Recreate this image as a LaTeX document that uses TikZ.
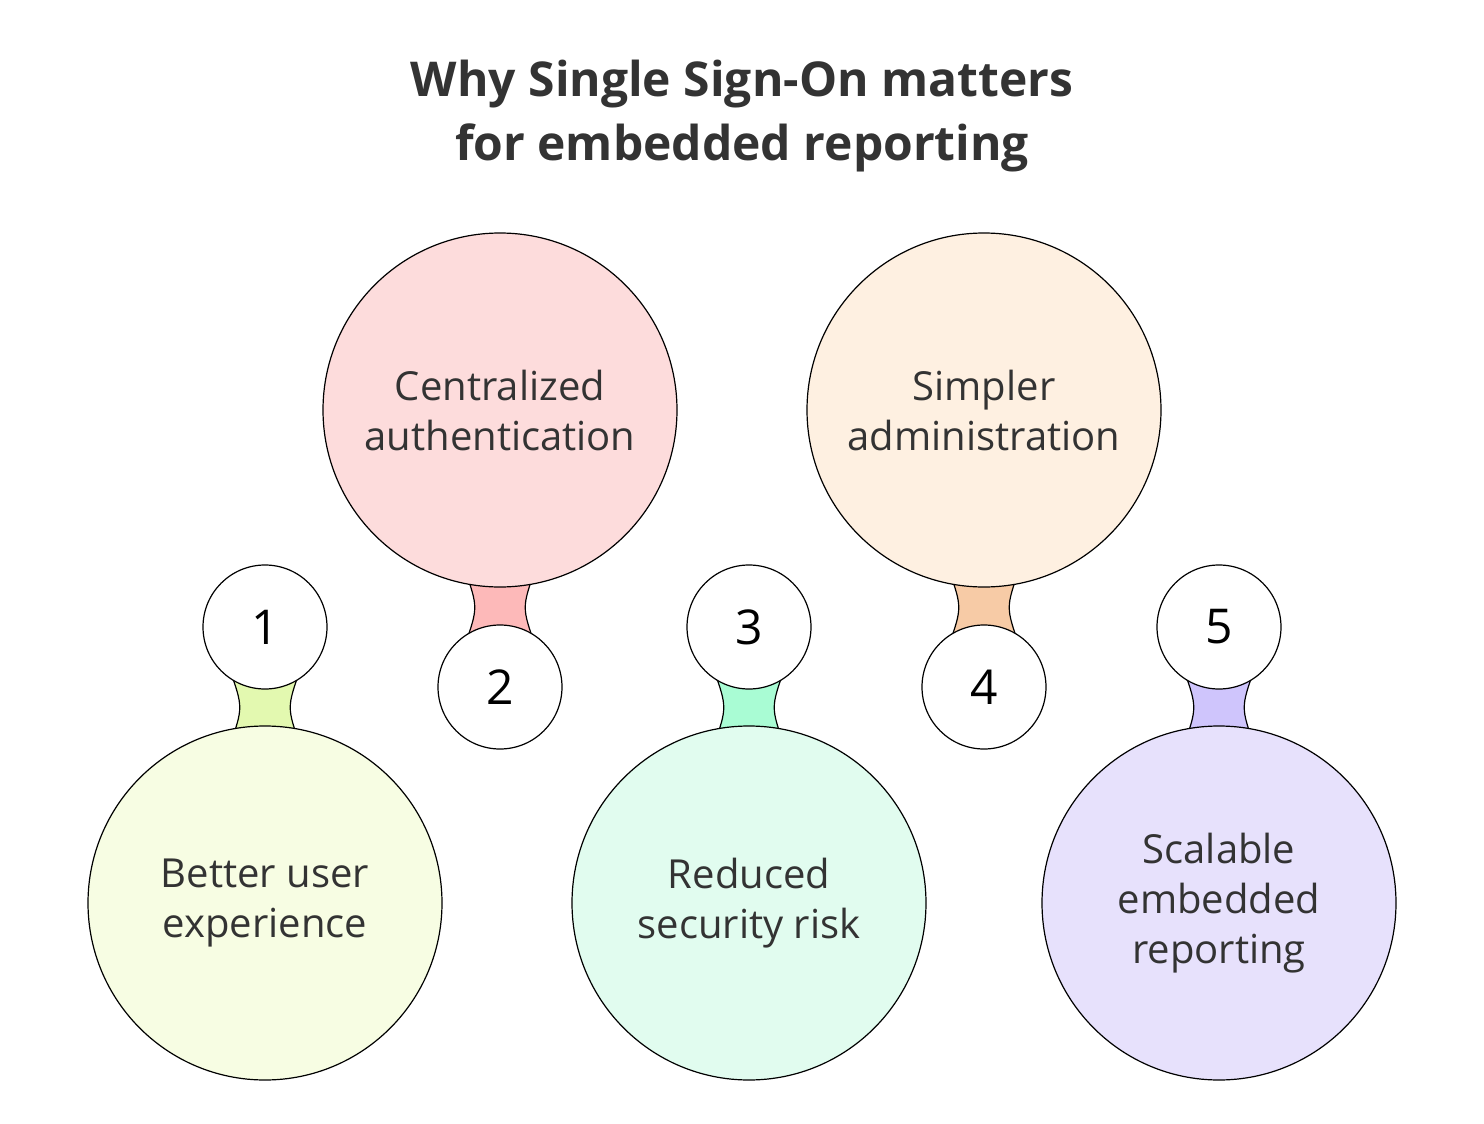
\documentclass[tikz,border=0pt]{standalone}
\usepackage{fontspec}
\setmainfont{Open Sans}
\definecolor{txt}{HTML}{333333}
\definecolor{b1}{HTML}{F7FDE3}\definecolor{n1}{HTML}{E3F9B0}
\definecolor{b2}{HTML}{FDDCDC}\definecolor{n2}{HTML}{FDB9B9}
\definecolor{b3}{HTML}{E1FCEF}\definecolor{n3}{HTML}{A9FCD4}
\definecolor{b4}{HTML}{FEF0E1}\definecolor{n4}{HTML}{F7CBA6}
\definecolor{b5}{HTML}{E7E1FC}\definecolor{n5}{HTML}{CFC5FC}
\begin{document}
\begin{tikzpicture}[x=1pt,y=-1pt,
 big/.style={circle,draw=black,line width=1.2pt,minimum size=354pt,inner sep=0pt,align=center,text=txt,font=\fontsize{40}{50}\selectfont},
 small/.style={circle,draw=black,fill=white,line width=1.2pt,minimum size=124pt,inner sep=0pt,text=black,font=\fontsize{48}{50}\selectfont},
 neck/.style={draw=black,line width=1.2pt}]
\useasboundingbox (0,0) rectangle (1484,1124);
\node[text=txt,font=\bfseries\fontsize{48}{64}\selectfont,align=center] (title) at (742,116) {Why Single Sign-On matters\\for embedded reporting};
\foreach \x/\a/\b/\c in {265/670/745/n1,500/570/645/n2,749/670/745/n3,984/570/645/n4,1219/670/745/n5}{
 \path[neck,fill=\c] (\x-35,\a) .. controls (\x-22,{(\a+\b)/2}) .. (\x-35,\b) -- (\x+35,\b) .. controls (\x+22,{(\a+\b)/2}) .. (\x+35,\a) -- cycle;
}
\node[big,fill=b1] (c1) at (265,903) {Better user\\experience};
\node[big,fill=b2] (c2) at (500,410) {Centralized\\authentication};
\node[big,fill=b3] (c3) at (749,903) {Reduced\\security risk};
\node[big,fill=b4] (c4) at (984,410) {Simpler\\administration};
\node[big,fill=b5] (c5) at (1219,903) {Scalable\\embedded\\reporting};
\node[small] (s1) at (265,627) {1};
\node[small] (s2) at (500,687) {2};
\node[small] (s3) at (749,627) {3};
\node[small] (s4) at (984,687) {4};
\node[small] (s5) at (1219,627) {5};
\end{tikzpicture}
\end{document}
